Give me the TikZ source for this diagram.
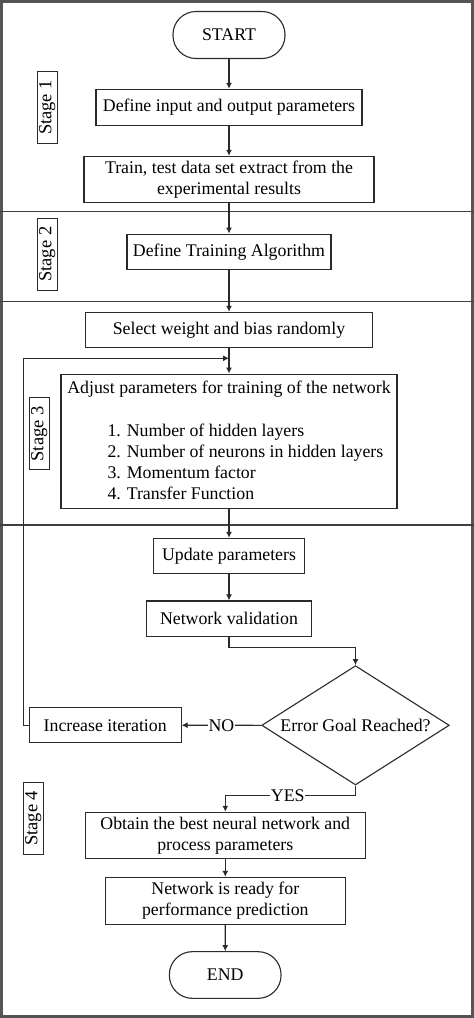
\documentclass[tikz,border=0pt]{standalone}
\usepackage{fontspec}
\setmainfont{Liberation Serif}
\usetikzlibrary{arrows.meta,shapes.geometric}
\definecolor{ln}{HTML}{2A2A2A}
\definecolor{fr}{HTML}{555555}
\begin{document}
\begin{tikzpicture}[x=1pt,y=-1pt,
 box/.style={draw=ln,line width=1.1pt,inner sep=0pt,align=center,font=\fontsize{17.8}{21}\selectfont},
 term/.style={box,rounded corners=23pt},
 stagebox/.style={draw=ln,line width=1.1pt,inner sep=0pt,rotate=90,minimum width=72pt,minimum height=20pt,font=\fontsize{18.5}{20}\selectfont},
 arr/.style={draw=ln,line width=1.1pt,-{Latex[length=6pt,width=6pt]}},
 conn/.style={draw=ln,line width=1.1pt},
 sep/.style={draw=ln!90,line width=1.3pt},
 lbl/.style={font=\fontsize{17.8}{20}\selectfont,fill=white,inner sep=0.5pt},
 txt/.style={font=\fontsize{17.8}{21}\selectfont,inner sep=0pt}
]
\useasboundingbox (0,0) rectangle (474,1018);
\fill[white] (0,0) rectangle (474,1018);
% frame and stage separators
\draw[fr,line width=2.5pt] (1.3,1.3) rectangle (472.7,1016.7);
\draw[sep] (0,211.7) -- (474,211.7);
\draw[sep] (0,301.7) -- (474,301.7);
\draw[sep] (0,525) -- (474,525);
% stage labels
\node[stagebox] (s1) at (47.3,107.5) {Stage 1};
\node[stagebox] (s2) at (47.3,254.2) {Stage 2};
\node[stagebox] (s3) at (39.3,433.8) {Stage 3};
\node[stagebox] (s4) at (33.3,818.3) {Stage 4};
% nodes
\node[term,minimum width=112pt,minimum height=47pt] (start) at (229,35) {START};
\node[box,minimum width=266pt,minimum height=36pt] (b1) at (229,107.3) {Define input and output parameters};
\node[box,minimum width=290pt,minimum height=46.4pt] (b2) at (229,179.5) {Train, test data set extract from the\\experimental results};
\node[box,minimum width=204pt,minimum height=35.3pt] (b3) at (229,251.7) {Define Training Algorithm};
\node[box,minimum width=287pt,minimum height=35pt] (b4) at (229,329.8) {Select weight and bias randomly};
\node[box,minimum width=336pt,minimum height=134.3pt] (b5) at (229,441.2) {};
\node[txt,anchor=base] (b5h) at (229,393.5) {Adjust parameters for training of the network};
\node[txt,anchor=base west] (i1) at (107.3,436) {1. Number of hidden layers};
\node[txt,anchor=base west] (i2) at (107.3,457.3) {2. Number of neurons in hidden layers};
\node[txt,anchor=base west] (i3) at (107.3,478.5) {3. Momentum factor};
\node[txt,anchor=base west] (i4) at (107.3,499.5) {4. Transfer Function};
\node[box,minimum width=151.4pt,minimum height=35pt] (b6) at (229,555.8) {Update parameters};
\node[box,minimum width=164.6pt,minimum height=35.7pt] (b7) at (229,618.8) {Network validation};
\node[diamond,draw=ln,line width=1.1pt,inner sep=0pt,aspect=1.58,minimum width=187.6pt,minimum height=119.3pt,font=\fontsize{17.8}{21}\selectfont] (dec) at (355.5,725.3) {Error Goal Reached?};
\node[box,minimum width=151.7pt,minimum height=35pt] (inc) at (105.2,725.2) {Increase iteration};
\node[box,minimum width=280pt,minimum height=46pt] (b8) at (225.3,835.3) {Obtain the best neural network and\\process parameters};
\node[box,minimum width=240pt,minimum height=46.7pt] (b9) at (225.3,900.7) {Network is ready for\\performance prediction};
\node[term,minimum width=111.7pt,minimum height=46.7pt] (end) at (225.2,975) {END};
\coordinate (lp) at (229,358.3);
% connectors
\draw[arr] (start) -- (b1);
\draw[arr] (b1) -- (b2);
\draw[arr] (b2) -- (b3);
\draw[arr] (b3) -- (b4);
\draw[arr] (b4) -- (b5);
\draw[arr] (b5) -- (b6);
\draw[arr] (b6) -- (b7);
\draw[arr] (b7.south) -- ++(0,10) -| (dec.north);
\draw[arr] (dec.west) -- node[lbl] (no) {NO} (inc.east);
\draw[arr] (dec.south) -- ++(0,10) -| node[lbl,pos=0.26] (yes) {YES} (b8.north);
\draw[arr] (b8) -- (b9);
\draw[arr] (b9) -- (end);
\draw[arr] (inc.west) -- ++(-5.3,0) |- (lp);
\end{tikzpicture}
\end{document}
